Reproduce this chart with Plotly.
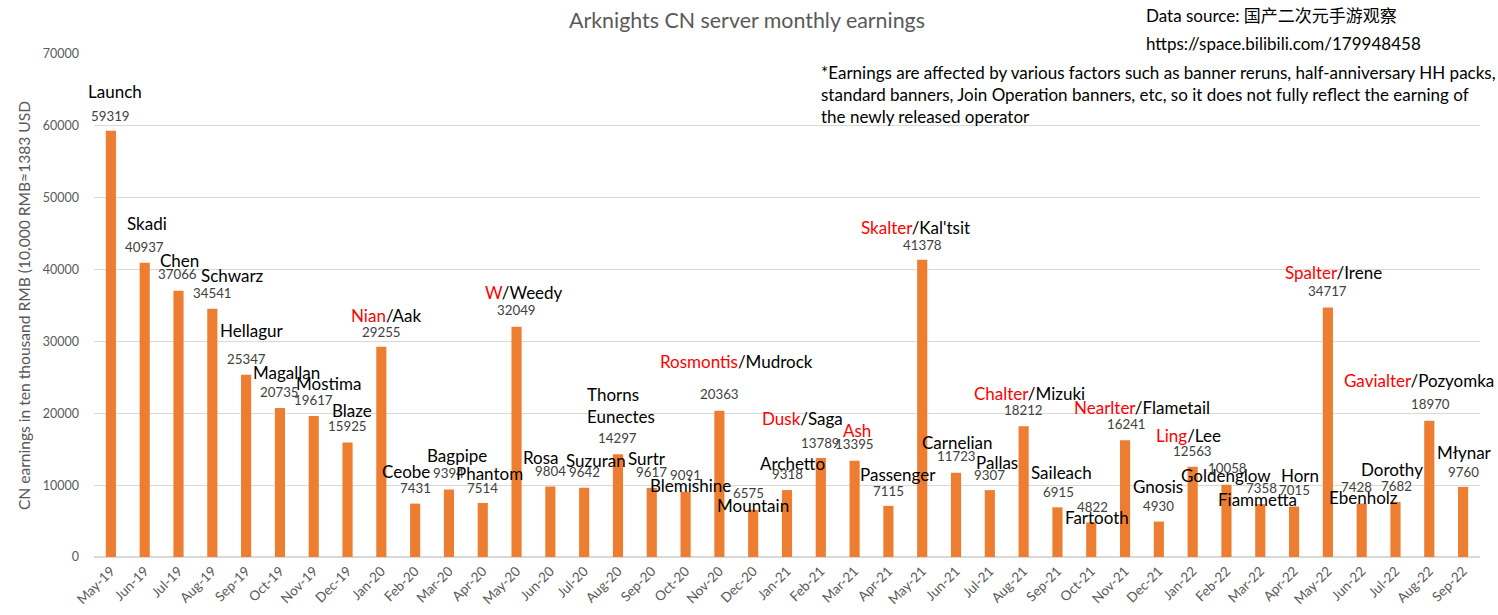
import plotly.graph_objects as go

months = ["May-19", "Jun-19", "Jul-19", "Aug-19", "Sep-19", "Oct-19", "Nov-19", "Dec-19",
          "Jan-20", "Feb-20", "Mar-20", "Apr-20", "May-20", "Jun-20", "Jul-20", "Aug-20",
          "Sep-20", "Oct-20", "Nov-20", "Dec-20", "Jan-21", "Feb-21", "Mar-21", "Apr-21",
          "May-21", "Jun-21", "Jul-21", "Aug-21", "Sep-21", "Oct-21", "Nov-21", "Dec-21",
          "Jan-22", "Feb-22", "Mar-22", "Apr-22", "May-22", "Jun-22", "Jul-22", "Aug-22",
          "Sep-22"]

earnings = [59319, 40937, 37066, 34541, 25347, 20735, 19617, 15925,
            29255, 7431, 9394, 7514, 32049, 9804, 9642, 14297,
            9617, 9091, 20363, 6575, 9318, 13789, 13395, 7115,
            41378, 11723, 9307, 18212, 6915, 4822, 16241, 4930,
            12563, 10058, 7358, 7015, 34717, 7428, 7682, 18970,
            9760]

# operator names: red part (limited) + black part
name_red = ["", "", "", "", "", "", "", "",
            "Nian", "", "", "", "W", "", "", "",
            "", "", "Rosmontis", "", "", "Dusk", "Ash", "",
            "Skalter", "", "", "Chalter", "", "", "Nearlter", "",
            "Ling", "", "", "", "Spalter", "", "", "Gavialter",
            ""]
name_black = ["Launch", "Skadi", "Chen", "Schwarz", "Hellagur", "Magallan", "Mostima", "Blaze",
              "/Aak", "Ceobe", "Bagpipe", "Phantom", "/Weedy", "Rosa", "Suzuran", "Thorns<br>Eunectes",
              "Surtr", "Blemishine", "/Mudrock", "Mountain", "Archetto", "/Saga", "", "Passenger",
              "/Kal'tsit", "Carnelian", "Pallas", "/Mizuki", "Saileach", "Fartooth", "/Flametail", "Gnosis",
              "/Lee", "Goldenglow", "Fiammetta", "Horn", "/Irene", "Ebenholz", "Dorothy", "/Pozyomka",
              "Młynar"]

# label placement (pixel offsets from the top of each bar, as moved by hand in the original)
name_dx = [4, 2, 1, 20, 5, 7, 15, 4, 5, -9, 8, 7, 7, -9, 12, 3, -5, 5, 17, 0, 5, -18, 2, 10,
           -7, 1, 7, 6, 4, 6, 17, -1, -4, 0, -3, 6, 6, 2, -3, -10, 1]
name_dy = [39, 39, 30, 33, 44, 36, 33, 32, 31, 32, 34, 30, 34, 29, 27, 49, 29, 6, 49, 4, 27, 39, 30, 31,
           32, 30, 28, 33, 35, 5, 33, 35, 31, 9, 5, 31, 35, 6, 32, 40, 34]
val_dx = [0, 0, -1, 0, 0, 0, 0, 0, 0, 0, 0, 0, 0, 0, 0, 0, 0, 0, 0, -5, 0, 0, 0, 0,
          0, 0, 0, 0, 1, 1, 1, 0, 0, 1, 1, 0, 0, -5, 1, 1, 0]
val_dy = [15, 16, 17, 16, 16, 16, 16, 17, 15, 16, 17, 15, 17, 16, 16, 16, 16, 17, 17, 17, 16, 15, 17, 15,
          15, 17, 15, 16, 15, 15, 16, 16, 16, 17, 16, 17, 17, 17, 16, 17, 15]

title_text = "Arknights CN server monthly earnings"
y_title = "CN earnings in ten thousand RMB (10,000 RMB≈1383 USD"
source_lines = ["Data source: 国产二次元手游观察", "https://space.bilibili.com/179948458"]
note_lines = ["*Earnings are affected by various factors such as banner reruns, half-anniversary HH packs,",
              "standard banners, Join Operation banners, etc, so it does not fully reflect the earning of",
              "the newly released operator"]

FONT = "Lato, 'Noto Sans', 'Noto Sans CJK SC', sans-serif"
BAR = "#ED7D31"
GRAY = "#595959"

fig = go.Figure()
fig.add_trace(go.Bar(x=months, y=earnings, marker_color=BAR, marker_line_width=0,
                     width=0.3, hoverinfo="x+y"))

annotations = []
for m, v, r, b, ndx, ndy, vdx, vdy in zip(months, earnings, name_red, name_black,
                                          name_dx, name_dy, val_dx, val_dy):
    txt = ""
    if r:
        txt += f"<span style='color:#FF0000'>{r}</span>"
    txt += b
    annotations.append(dict(x=m, y=v, xref="x", yref="y", text=txt, showarrow=False,
                            xanchor="center", yanchor="middle", xshift=ndx, yshift=ndy,
                            align="left", font=dict(family=FONT, size=17, color="#000000")))
    annotations.append(dict(x=m, y=v, xref="x", yref="y", text=str(v), showarrow=False,
                            xanchor="center", yanchor="middle", xshift=vdx, yshift=vdy,
                            font=dict(family=FONT, size=13.3, color="#404040")))

for i, line in enumerate(source_lines):
    annotations.append(dict(x=1144, y=615 - 16 - 27 * i, xref="paper", yref="paper",
                            text=line, showarrow=False, xanchor="left", yanchor="middle",
                            font=dict(family=FONT, size=17, color="#000000")))
for i, line in enumerate(note_lines):
    annotations.append(dict(x=819, y=615 - 72 - 22 * i, xref="paper", yref="paper",
                            text=line, showarrow=False, xanchor="left", yanchor="middle",
                            font=dict(family=FONT, size=17, color="#000000")))

# convert the pixel placements of the free text into paper coordinates
L, R, T, B = 94, 18, 54, 58
W, H = 1498, 615
for a in annotations:
    if a["xref"] == "paper":
        a["x"] = (a["x"] - L) / (W - L - R)
        a["y"] = (a["y"] - B) / (H - T - B)

fig.update_layout(
    width=W, height=H,
    margin=dict(l=L, r=R, t=T, b=B, autoexpand=False),
    paper_bgcolor="white", plot_bgcolor="white",
    showlegend=False,
    title=dict(text=title_text, x=747 / W, xanchor="center", xref="container",
               y=1 - 21 / H, yref="container", yanchor="middle",
               font=dict(family=FONT, size=21.4, color=GRAY)),
    annotations=annotations,
    bargap=0.7,
)
fig.update_xaxes(type="category", range=[-0.5, len(months) - 0.5], tickangle=-45,
                 tickfont=dict(family=FONT, size=13.5, color=GRAY), showgrid=False,
                 showline=True, linecolor="#D9D9D9", linewidth=1, ticks="", automargin=False)
fig.update_yaxes(range=[0, 70000], dtick=10000, showgrid=True, gridcolor="#D9D9D9",
                 gridwidth=1, zeroline=True, zerolinecolor="#D9D9D9", showline=False,
                 tickfont=dict(family=FONT, size=12.5, color=GRAY), ticks="",
                 ticklabelstandoff=14, tickformat="d", automargin=False,
                 title=dict(text=y_title, font=dict(family=FONT, size=15.6, color=GRAY),
                            standoff=8))

fig.write_html("out.html", config={"displayModeBar": False},
               post_script="document.body.style.margin='0';document.body.style.padding='0';")
